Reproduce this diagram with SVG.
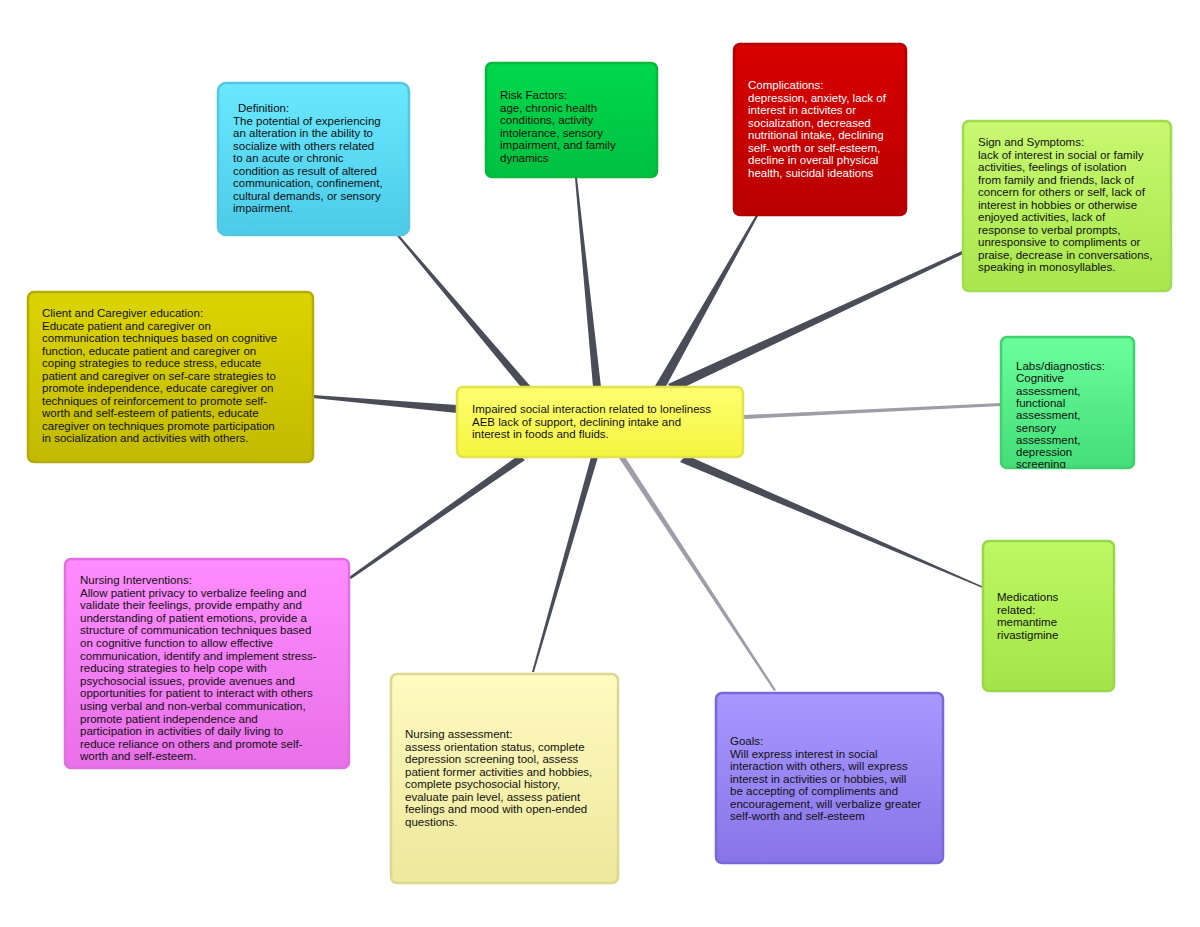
<svg xmlns="http://www.w3.org/2000/svg" width="1200" height="927" viewBox="0 0 1200 927">
<style>
text{font-family:"Liberation Sans Narrow","Liberation Sans",Arial,sans-serif;font-size:11.5px;fill:#111;}
.w{fill:#fff;}
.b{stroke-width:2.5;}
.d{fill:#4a4d58;}
.g{fill:#a09ca8;}
</style>
<defs>
<linearGradient id="cy" x1="0" y1="0" x2="0" y2="1"><stop offset="0" stop-color="#6ae8ff"/><stop offset="1" stop-color="#4ccbe8"/></linearGradient>
<linearGradient id="gr" x1="0" y1="0" x2="0" y2="1"><stop offset="0" stop-color="#00d84c"/><stop offset="1" stop-color="#00c040"/></linearGradient>
<linearGradient id="rd" x1="0" y1="0" x2="0" y2="1"><stop offset="0" stop-color="#d80000"/><stop offset="1" stop-color="#b80000"/></linearGradient>
<linearGradient id="lg" x1="0" y1="0" x2="0" y2="1"><stop offset="0" stop-color="#c8f870"/><stop offset="1" stop-color="#a8e64c"/></linearGradient>
<linearGradient id="mt" x1="0" y1="0" x2="0" y2="1"><stop offset="0" stop-color="#6aff9c"/><stop offset="1" stop-color="#44dd78"/></linearGradient>
<linearGradient id="md" x1="0" y1="0" x2="0" y2="1"><stop offset="0" stop-color="#bcf864"/><stop offset="1" stop-color="#a4e448"/></linearGradient>
<linearGradient id="pu" x1="0" y1="0" x2="0" y2="1"><stop offset="0" stop-color="#a898ff"/><stop offset="1" stop-color="#8874e8"/></linearGradient>
<linearGradient id="py" x1="0" y1="0" x2="0" y2="1"><stop offset="0" stop-color="#fffac0"/><stop offset="1" stop-color="#ece89c"/></linearGradient>
<linearGradient id="pk" x1="0" y1="0" x2="0" y2="1"><stop offset="0" stop-color="#ff8cff"/><stop offset="1" stop-color="#e870e8"/></linearGradient>
<linearGradient id="ol" x1="0" y1="0" x2="0" y2="1"><stop offset="0" stop-color="#dcd400"/><stop offset="1" stop-color="#c2ba00"/></linearGradient>
<linearGradient id="ye" x1="0" y1="0" x2="0" y2="1"><stop offset="0" stop-color="#ffff70"/><stop offset="1" stop-color="#f4f440"/></linearGradient>
<clipPath id="labclip"><rect x="1001" y="337" width="133" height="131"/></clipPath>
</defs>
<g id="connectors">
<polygon class="d" points="397,236 399,235 532,388 525,392"/>
<polygon class="d" points="575,178 577,178 601,387 593,387"/>
<polygon class="d" points="756,215 758,216 664,390 655,386"/>
<polygon class="d" points="962,251 963,254 674,392 668,384"/>
<polygon class="g" points="1001,403 1001,406 744,419 744,415"/>
<polygon class="d" points="984,587 985,589 680,462 686,455"/>
<polygon class="g" points="774,691 776,690 625,457 619,458"/>
<polygon class="d" points="532,672 534,672 598,457 591,457"/>
<polygon class="d" points="349,577 351,579 525,460 519,455"/>
<polygon class="d" points="313,395 313,398 457,413 457,405"/>
</g>
<g id="definition"><rect x="218" y="83" width="191" height="152" rx="8" fill="url(#cy)" stroke="#55c6e2" class="b"/>
<text x="233" y="112"><tspan x="238">Definition:</tspan><tspan x="233" dy="12.5">The potential of experiencing</tspan><tspan x="233" dy="12.5">an alteration in the ability to</tspan><tspan x="233" dy="12.5">socialize with others related</tspan><tspan x="233" dy="12.5">to an acute or chronic</tspan><tspan x="233" dy="12.5">condition as result of altered</tspan><tspan x="233" dy="12.5">communication, confinement,</tspan><tspan x="233" dy="12.5">cultural demands, or sensory</tspan><tspan x="233" dy="12.5">impairment.</tspan></text></g>
<g id="risk"><rect x="486" y="63" width="171" height="114" rx="6" fill="url(#gr)" stroke="#00b83c" class="b"/>
<text x="500" y="99"><tspan x="500">Risk Factors:</tspan><tspan x="500" dy="12.5">age, chronic health</tspan><tspan x="500" dy="12.5">conditions, activity</tspan><tspan x="500" dy="12.5">intolerance, sensory</tspan><tspan x="500" dy="12.5">impairment, and family</tspan><tspan x="500" dy="12.5">dynamics</tspan></text></g>
<g id="complications"><rect x="734" y="44" width="172" height="171" rx="6" fill="url(#rd)" stroke="#b00000" class="b"/>
<text class="w" x="748" y="89"><tspan x="748">Complications:</tspan><tspan x="748" dy="12.5">depression, anxiety, lack of</tspan><tspan x="748" dy="12.5">interest in activites or</tspan><tspan x="748" dy="12.5">socialization, decreased</tspan><tspan x="748" dy="12.5">nutritional intake, declining</tspan><tspan x="748" dy="12.5">self- worth or self-esteem,</tspan><tspan x="748" dy="12.5">decline in overall physical</tspan><tspan x="748" dy="12.5">health, suicidal ideations</tspan></text></g>
<g id="signs"><rect x="963" y="121" width="208" height="170" rx="6" fill="url(#lg)" stroke="#a0dc50" class="b"/>
<text x="978" y="146"><tspan x="978">Sign and Symptoms:</tspan><tspan x="978" dy="12.5">lack of interest in social or family</tspan><tspan x="978" dy="12.5">activities, feelings of isolation</tspan><tspan x="978" dy="12.5">from family and friends, lack of</tspan><tspan x="978" dy="12.5">concern for others or self, lack of</tspan><tspan x="978" dy="12.5">interest in hobbies or otherwise</tspan><tspan x="978" dy="12.5">enjoyed activities, lack of</tspan><tspan x="978" dy="12.5">response to verbal prompts,</tspan><tspan x="978" dy="12.5">unresponsive to compliments or</tspan><tspan x="978" dy="12.5">praise, decrease in conversations,</tspan><tspan x="978" dy="12.5">speaking in monosyllables.</tspan></text></g>
<g id="labs"><rect x="1001" y="337" width="133" height="131" rx="6" fill="url(#mt)" stroke="#40d070" class="b"/>
<text x="1016" y="370" clip-path="url(#labclip)"><tspan x="1016">Labs/diagnostics:</tspan><tspan x="1016" dy="12.3">Cognitive</tspan><tspan x="1016" dy="12.3">assessment,</tspan><tspan x="1016" dy="12.3">functional</tspan><tspan x="1016" dy="12.3">assessment,</tspan><tspan x="1016" dy="12.3">sensory</tspan><tspan x="1016" dy="12.3">assessment,</tspan><tspan x="1016" dy="12.3">depression</tspan><tspan x="1016" dy="12.3">screening</tspan></text></g>
<g id="medications"><rect x="983" y="541" width="131" height="150" rx="6" fill="url(#md)" stroke="#98d848" class="b"/>
<text x="997" y="601"><tspan x="997">Medications</tspan><tspan x="997" dy="12.5">related:</tspan><tspan x="997" dy="12.5">memantime</tspan><tspan x="997" dy="12.5">rivastigmine</tspan></text></g>
<g id="goals"><rect x="716" y="693" width="227" height="170" rx="6" fill="url(#pu)" stroke="#7a68d8" class="b"/>
<text x="730" y="745"><tspan x="730">Goals:</tspan><tspan x="730" dy="12.5">Will express interest in social</tspan><tspan x="730" dy="12.5">interaction with others, will express</tspan><tspan x="730" dy="12.5">interest in activities or hobbies, will</tspan><tspan x="730" dy="12.5">be accepting of compliments and</tspan><tspan x="730" dy="12.5">encouragement, will verbalize greater</tspan><tspan x="730" dy="12.5">self-worth and self-esteem</tspan></text></g>
<g id="assessment"><rect x="391" y="674" width="227" height="209" rx="6" fill="url(#py)" stroke="#dcd890" class="b"/>
<text x="405" y="738"><tspan x="405">Nursing assessment:</tspan><tspan x="405" dy="12.5">assess orientation status, complete</tspan><tspan x="405" dy="12.5">depression screening tool, assess</tspan><tspan x="405" dy="12.5">patient former activities and hobbies,</tspan><tspan x="405" dy="12.5">complete psychosocial history,</tspan><tspan x="405" dy="12.5">evaluate pain level, assess patient</tspan><tspan x="405" dy="12.5">feelings and mood with open-ended</tspan><tspan x="405" dy="12.5">questions.</tspan></text></g>
<g id="interventions"><rect x="65" y="559" width="284" height="209" rx="6" fill="url(#pk)" stroke="#e070e0" class="b"/>
<text x="80" y="584"><tspan x="80">Nursing Interventions:</tspan><tspan x="80" dy="12.6">Allow patient privacy to verbalize feeling and</tspan><tspan x="80" dy="12.6">validate their feelings, provide empathy and</tspan><tspan x="80" dy="12.6">understanding of patient emotions, provide a</tspan><tspan x="80" dy="12.6">structure of communication techniques based</tspan><tspan x="80" dy="12.6">on cognitive function to allow effective</tspan><tspan x="80" dy="12.6">communication, identify and implement stress-</tspan><tspan x="80" dy="12.6">reducing strategies to help cope with</tspan><tspan x="80" dy="12.6">psychosocial issues, provide avenues and</tspan><tspan x="80" dy="12.6">opportunities for patient to interact with others</tspan><tspan x="80" dy="12.6">using verbal and non-verbal communication,</tspan><tspan x="80" dy="12.6">promote patient independence and</tspan><tspan x="80" dy="12.6">participation in activities of daily living to</tspan><tspan x="80" dy="12.6">reduce reliance on others and promote self-</tspan><tspan x="80" dy="12.6">worth and self-esteem.</tspan></text></g>
<g id="education"><rect x="28" y="292" width="285" height="170" rx="6" fill="url(#ol)" stroke="#b4ac00" class="b"/>
<text x="42" y="317"><tspan x="42">Client and Caregiver education:</tspan><tspan x="42" dy="12.5">Educate patient and caregiver on</tspan><tspan x="42" dy="12.5">communication techniques based on cognitive</tspan><tspan x="42" dy="12.5">function, educate patient and caregiver on</tspan><tspan x="42" dy="12.5">coping strategies to reduce stress, educate</tspan><tspan x="42" dy="12.5">patient and caregiver on sef-care strategies to</tspan><tspan x="42" dy="12.5">promote independence, educate caregiver on</tspan><tspan x="42" dy="12.5">techniques of reinforcement to promote self-</tspan><tspan x="42" dy="12.5">worth and self-esteem of patients, educate</tspan><tspan x="42" dy="12.5">caregiver on techniques promote participation</tspan><tspan x="42" dy="12.5">in socialization and activities with others.</tspan></text></g>
<g id="center"><rect x="457" y="387" width="286" height="70" rx="6" fill="url(#ye)" stroke="#e2e24a" class="b"/>
<text x="472" y="413"><tspan x="472">Impaired social interaction related to loneliness</tspan><tspan x="472" dy="12.5">AEB lack of support, declining intake and</tspan><tspan x="472" dy="12.5">interest in foods and fluids.</tspan></text></g>
</svg>
